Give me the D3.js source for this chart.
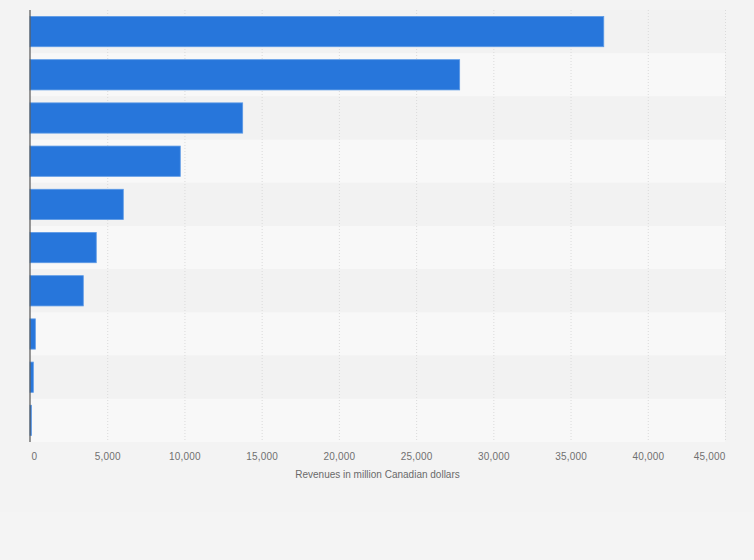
<!DOCTYPE html>
<html>
<head>
<meta charset="utf-8">
<script src="https://cdn.jsdelivr.net/npm/d3@7"></script>
<style>
  html, body { margin: 0; padding: 0; background: #f3f3f3; }
  svg { display: block; }
  text { font-family: "Liberation Sans", Arial, sans-serif; }
</style>
</head>
<body>
<svg id="chart" width="754" height="560"></svg>
<script>
// Data (category labels are not shown in the reference)
const categories = ["c1", "c2", "c3", "c4", "c5", "c6", "c7", "c8", "c9", "c10"];
const values = [37150, 27820, 13770, 9730, 6040, 4290, 3450, 345, 215, 90];
const tickValues = [0, 5000, 10000, 15000, 20000, 25000, 30000, 35000, 40000, 45000];
const axisTitle = "Revenues in million Canadian dollars";

const W = 754, H = 560;
const margin = { top: 10, left: 30, right: 29, bottom: 118 };
const plotW = W - margin.left - margin.right;
const plotH = H - margin.top - margin.bottom;

const svg = d3.select("#chart");
svg.append("rect").attr("width", W).attr("height", H).attr("fill", "#f3f3f3");
svg.append("rect").attr("y", 512).attr("width", W).attr("height", H - 512).attr("fill", "#f4f4f4");

const g = svg.append("g").attr("transform", `translate(${margin.left},${margin.top})`);

const x = d3.scaleLinear().domain([0, 45000]).range([0, plotW]);
const y = d3.scaleBand().domain(categories).range([0, plotH]).paddingInner(0.3).paddingOuter(0.15);
const rows = d3.scaleBand().domain(categories).range([0, plotH]).padding(0);

// Alternating row bands
g.selectAll("rect.band").data(categories).join("rect")
  .attr("class", "band")
  .attr("x", 0)
  .attr("y", d => rows(d))
  .attr("width", plotW)
  .attr("height", rows.bandwidth())
  .attr("fill", (d, i) => i % 2 === 0 ? "#f2f2f2" : "#f8f8f8");

// Gridlines
g.selectAll("line.grid").data(tickValues.filter(t => t > 0)).join("line")
  .attr("class", "grid")
  .attr("x1", d => x(d) + 0.5).attr("x2", d => x(d) + 0.5)
  .attr("y1", 0).attr("y2", plotH)
  .attr("stroke", "#dadada")
  .attr("stroke-width", 1)
  .attr("stroke-dasharray", "1,2");

// Bars
g.selectAll("rect.bar").data(values).join("rect")
  .attr("class", "bar")
  .attr("x", 0)
  .attr("y", (d, i) => y(categories[i]))
  .attr("width", d => x(d))
  .attr("height", y.bandwidth())
  .attr("fill", "#2776db")
  .attr("stroke", "#5b99e6")
  .attr("stroke-width", 0.8);

// Left axis line
g.append("line")
  .attr("x1", 0).attr("x2", 0)
  .attr("y1", 0).attr("y2", plotH)
  .attr("stroke", "#555").attr("stroke-width", 1.2);

// X axis labels
const fmt = d3.format(",");
const xAxis = d3.axisBottom(x).tickValues(tickValues).tickSize(0).tickPadding(0).tickFormat(fmt);
const ax = g.append("g").attr("transform", `translate(0,${plotH})`).call(xAxis);
ax.select(".domain").remove();
ax.selectAll("text")
  .attr("y", 18)
  .attr("dy", 0)
  .attr("fill", "#707070")
  .style("font-size", "10px")
  .style("letter-spacing", "0.2px")
  .attr("text-anchor", (d, i) => i === 0 ? "start" : (i === tickValues.length - 1 ? "end" : "middle"))
  .attr("dx", (d, i) => i === 0 ? 1 : 0);

// Axis title
g.append("text")
  .attr("x", plotW / 2)
  .attr("y", plotH + 36)
  .attr("text-anchor", "middle")
  .attr("fill", "#6a6a6a")
  .style("font-size", "10px")
  .text(axisTitle);
</script>
</body>
</html>
